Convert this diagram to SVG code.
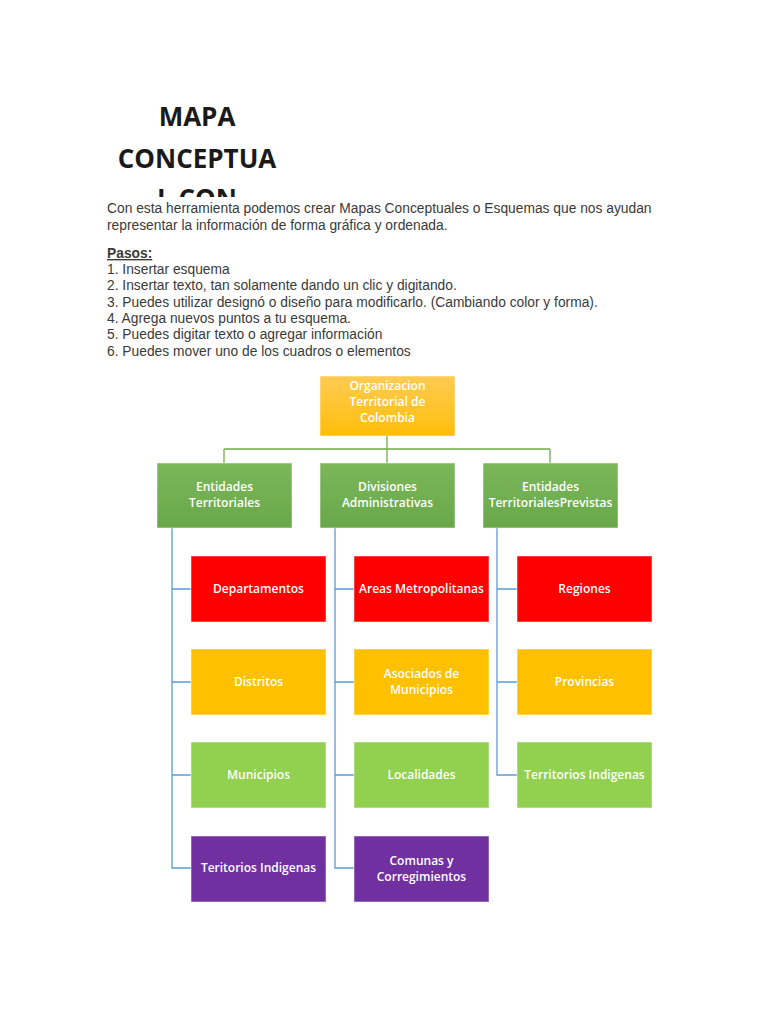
<svg xmlns="http://www.w3.org/2000/svg" width="768" height="1024" viewBox="0 0 768 1024">
<defs>
<linearGradient id="gOrg" x1="0" y1="0" x2="0" y2="1"><stop offset="0" stop-color="#FFCB52"/><stop offset="1" stop-color="#FFBE0A"/></linearGradient>
<linearGradient id="gGrn" x1="0" y1="0" x2="0" y2="1"><stop offset="0" stop-color="#7CB75A"/><stop offset="1" stop-color="#68A84A"/></linearGradient>
<clipPath id="titleClip"><rect x="0" y="0" width="768" height="197"/></clipPath>
</defs>
<style>
.title{font-family:"Open Sans",sans-serif;font-weight:700;font-size:26px;fill:#1a1a1a}
.para{font-family:"Liberation Sans",Arial,sans-serif;font-size:13.8px;fill:#3a3a3a}
.lbl{font-family:"Open Sans",sans-serif;font-size:12px;font-weight:600;fill:#fff;text-anchor:middle}
.box{stroke:#fff;stroke-opacity:0.5;stroke-width:1}
.red{fill:#FF0000}.yel{fill:#FFC000}.grn{fill:#92D050}.pur{fill:#7030A0}
.cg{stroke:#70AD47;stroke-width:1.3;fill:none}
.cb{stroke:#5B9BD5;stroke-width:1.3;fill:none}
</style>
<g clip-path="url(#titleClip)">
<text class="title" x="197" y="126" text-anchor="middle">MAPA</text>
<text class="title" x="197" y="168" text-anchor="middle">CONCEPTUA</text>
<text class="title" x="197" y="208" text-anchor="middle">L CON</text>
</g>
<text class="para" x="107" y="213">Con esta herramienta podemos crear Mapas Conceptuales o Esquemas que nos ayudan</text>
<text class="para" x="107" y="230">representar la información de forma gráfica y ordenada.</text>
<text class="para" x="107" y="258" font-weight="700" text-decoration="underline">Pasos:</text>
<text class="para" x="107" y="274">1. Insertar esquema</text>
<text class="para" x="107" y="290">2. Insertar texto, tan solamente dando un clic y digitando.</text>
<text class="para" x="107" y="307">3. Puedes utilizar designó o diseño para modificarlo. (Cambiando color y forma).</text>
<text class="para" x="107" y="323">4. Agrega nuevos puntos a tu esquema.</text>
<text class="para" x="107" y="339">5. Puedes digitar texto o agregar información</text>
<text class="para" x="107" y="356">6. Puedes mover uno de los cuadros o elementos</text>

<g id="connectors">
<path class="cg" d="M387 436V449M224 449H550M224 449V463M387 449V463M550 449V463"/>
<path class="cb" d="M172 528V868H191M172 589H191M172 682H191M172 775H191"/>
<path class="cb" d="M335 528V868H354M335 589H354M335 682H354M335 775H354"/>
<path class="cb" d="M497 528V775H517M497 589H517M497 682H517"/>
</g>

<g id="n-root"><rect x="320" y="376" width="135" height="60" fill="url(#gOrg)" class="box"/>
<text class="lbl" x="387.5" y="390">Organizacion</text><text class="lbl" x="387.5" y="406">Territorial de</text><text class="lbl" x="387.5" y="422">Colombia</text></g>

<g id="n-ent"><rect x="157" y="463" width="135" height="65" fill="url(#gGrn)" class="box"/>
<text class="lbl" x="224.5" y="491">Entidades</text><text class="lbl" x="224.5" y="507">Territoriales</text></g>
<g id="n-div"><rect x="320" y="463" width="135" height="65" fill="url(#gGrn)" class="box"/>
<text class="lbl" x="387.5" y="491">Divisiones</text><text class="lbl" x="387.5" y="507">Administrativas</text></g>
<g id="n-prev"><rect x="483" y="463" width="135" height="65" fill="url(#gGrn)" class="box"/>
<text class="lbl" x="550.5" y="491">Entidades</text><text class="lbl" x="550.5" y="507">TerritorialesPrevistas</text></g>

<g id="n-dep"><rect x="191" y="556" width="135" height="66" class="box red"/><text class="lbl" x="258.5" y="593">Departamentos</text></g>
<g id="n-dis"><rect x="191" y="649" width="135" height="66" class="box yel"/><text class="lbl" x="258.5" y="686">Distritos</text></g>
<g id="n-mun"><rect x="191" y="742" width="135" height="66" class="box grn"/><text class="lbl" x="258.5" y="779">Municipios</text></g>
<g id="n-tin"><rect x="191" y="836" width="135" height="66" class="box pur"/><text class="lbl" x="258.5" y="872">Teritorios Indigenas</text></g>

<g id="n-area"><rect x="354" y="556" width="135" height="66" class="box red"/><text class="lbl" x="421.5" y="593">Areas Metropolitanas</text></g>
<g id="n-aso"><rect x="354" y="649" width="135" height="66" class="box yel"/><text class="lbl" x="421.5" y="678">Asociados de</text><text class="lbl" x="421.5" y="694">Municipios</text></g>
<g id="n-loc"><rect x="354" y="742" width="135" height="66" class="box grn"/><text class="lbl" x="421.5" y="779">Localidades</text></g>
<g id="n-com"><rect x="354" y="836" width="135" height="66" class="box pur"/><text class="lbl" x="421.5" y="865">Comunas y</text><text class="lbl" x="421.5" y="881">Corregimientos</text></g>

<g id="n-reg"><rect x="517" y="556" width="135" height="66" class="box red"/><text class="lbl" x="584.5" y="593">Regiones</text></g>
<g id="n-pro"><rect x="517" y="649" width="135" height="66" class="box yel"/><text class="lbl" x="584.5" y="686">Provincias</text></g>
<g id="n-ter"><rect x="517" y="742" width="135" height="66" class="box grn"/><text class="lbl" x="584.5" y="779">Territorios Indigenas</text></g>
</svg>
